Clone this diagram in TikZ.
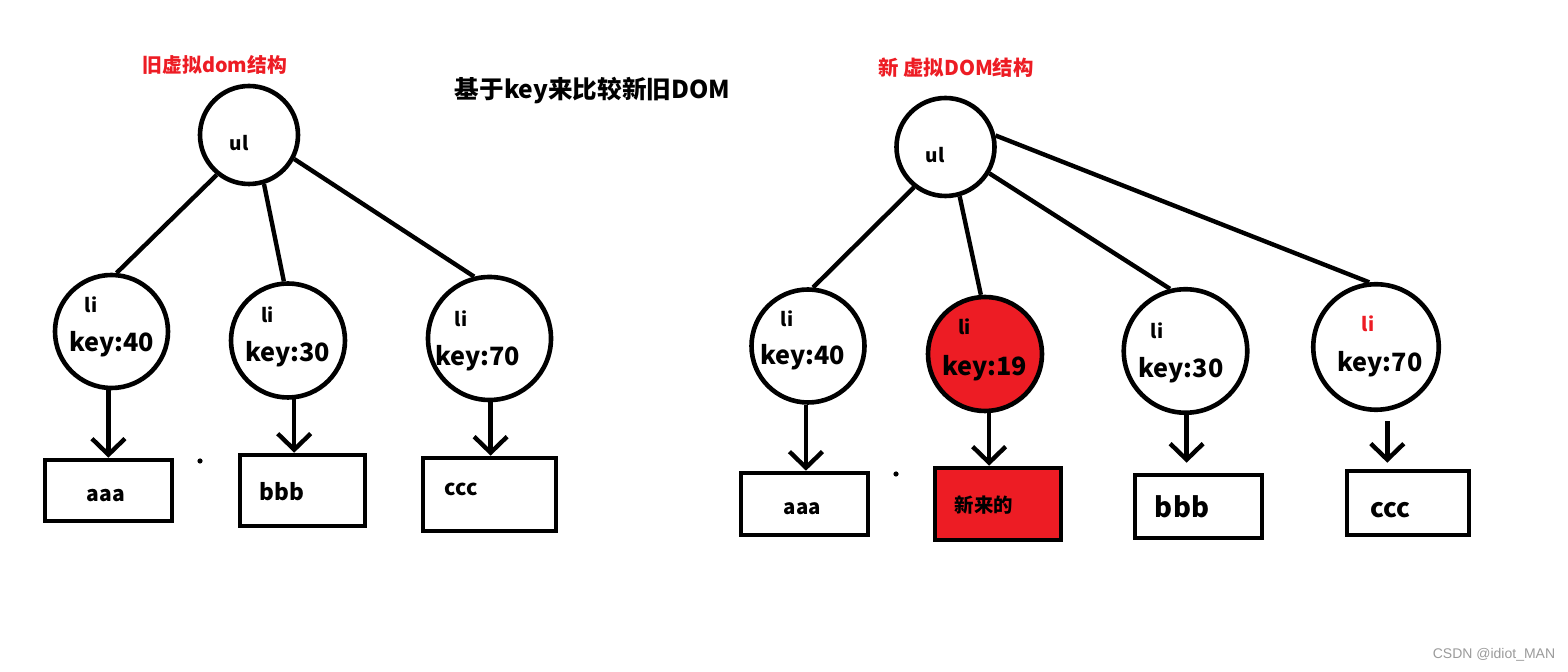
\documentclass[tikz,border=0pt]{standalone}
\usepackage{fontspec}
\setmainfont{Noto Sans CJK SC}
\newfontfamily\wmfont{Liberation Sans}
\usetikzlibrary{arrows.meta}
\definecolor{pred}{HTML}{ED1C24}
\definecolor{wmgray}{HTML}{9A9A9A}
\newcommand\fs[1]{\fontsize{#1pt}{#1pt}\selectfont\bfseries}
\tikzset{
  circ/.style={circle, draw, line width=2.3pt, inner sep=0pt},
  boxn/.style={rectangle, draw, line width=2.3pt, inner sep=0pt},
  edge/.style={line width=2.2pt},
  arr/.style={line width=2.2pt, -{Straight Barb[length=8pt,width=16.5pt]}},
  txt/.style={inner sep=0pt, anchor=base},
  ctxt/.style={inner sep=0pt, anchor=center},
}
\begin{document}
\begin{tikzpicture}[x=0.5pt,y=-0.5pt]
\useasboundingbox (0,0) rectangle (1568,672);
% ---------- titles ----------
\node[ctxt, text=pred, font=\fs{9.9}] (t1) at (215,65) {旧虚拟dom结构};
\node[ctxt, text=pred, font=\fs{10.2}] (t2) at (956,67.5) {新 虚拟DOM结构};
\node[ctxt, font=\fs{12.3}] (t0) at (592.5,91) {基于key来比较新旧DOM};
% ---------- old tree ----------
\node[circ, minimum size=49pt] (oul) at (249,135) {};
\node[circ, minimum size=56.5pt] (o1) at (111.5,331.5) {};
\node[circ, minimum size=57pt] (o2) at (288,340.5) {};
\node[circ, minimum size=61.5pt] (o3) at (489.5,338.5) {};
\node[boxn, minimum width=63.5pt, minimum height=30.5pt] (oa) at (108.5,490.5) {};
\node[boxn, minimum width=62.5pt, minimum height=35.5pt] (ob) at (302.5,490.5) {};
\node[boxn, minimum width=66.5pt, minimum height=36.5pt] (oc) at (489.5,494.5) {};
\draw[edge] (oul.231.8) -- (o1.85.4);
\draw[edge] (oul.287.7) -- (o2.94);
\draw[edge] (oul.332.4) -- (o3.104.3);
\draw[arr] (o1.267.5) -- (o1.267.5 |- oa.north);
\draw[arr] (o2.276) -- (o2.276 |- ob.north);
\draw[arr] (o3.271) -- (o3.271 |- oc.north);
\node[txt, font=\fs{9.5}] (oult) at (239,151) {ul};
\node[txt, font=\fs{9.5}] (o1l) at (91,313) {li};
\node[txt, font=\fs{12.6}] (o1k) at (111.5,352) {key:40};
\node[txt, font=\fs{9.5}] (o2l) at (267.5,323) {li};
\node[txt, font=\fs{12.6}] (o2k) at (287.5,362) {key:30};
\node[txt, font=\fs{9.5}] (o3l) at (461,327) {li};
\node[txt, font=\fs{12.6}] (o3k) at (477.5,366) {key:70};
\node[txt, font=\fs{10.5}] (oat) at (106,502) {aaa};
\node[txt, font=\fs{11.3}] (obt) at (282,501) {bbb};
\node[txt, font=\fs{10.7}] (oct) at (461.5,496) {ccc};
\fill (200,461) circle[radius=1.3pt];
% ---------- new tree ----------
\node[circ, minimum size=49pt] (nul) at (945.5,147) {};
\node[circ, minimum size=56.5pt] (n1) at (808,346) {};
\node[circ, minimum size=57pt, fill=pred] (n2) at (985,354) {};
\node[circ, minimum size=61.75pt] (n3) at (1185.5,351) {};
\node[circ, minimum size=62.75pt] (n4) at (1376,347) {};
\node[boxn, minimum width=63.5pt, minimum height=31pt] (na) at (804.5,504) {};
\node[boxn, minimum width=63pt, minimum height=36pt, fill=pred] (nn) at (998,504) {};
\node[boxn, minimum width=63.5pt, minimum height=31.5pt] (nb) at (1198.5,506.5) {};
\node[boxn, minimum width=61pt, minimum height=32pt] (nc) at (1408,503) {};
\draw[edge] (nul.232.9) -- (n1.85);
\draw[edge] (nul.286.8) -- (n2.94.8);
\draw[edge] (nul.329.7) -- (n3.104);
\draw[edge] (nul.13.7) -- (n4.96.8);
\draw[arr] (n1.268) -- (n1.268 |- na.north);
\draw[arr] (n2.274) -- (n2.274 |- nn.north);
\draw[arr, shorten >=5pt] (n3.271) -- (n3.271 |- nb.north);
\draw[arr, shorten <=5pt, shorten >=3pt] (n4.280) -- (n4.280 |- nc.north);
\node[txt, font=\fs{9.5}] (nult) at (935,163) {ul};
\node[txt, font=\fs{9.5}] (n1l) at (787,327) {li};
\node[txt, font=\fs{12.6}] (n1k) at (803,365) {key:40};
\node[txt, font=\fs{9.5}] (n2l) at (964.5,335) {li};
\node[txt, font=\fs{12.6}] (n2k) at (984.5,376) {key:19};
\node[txt, font=\fs{9.5}] (n3l) at (1157,339) {li};
\node[txt, font=\fs{12.6}] (n3k) at (1181,378) {key:30};
\node[txt, font=\fs{9.5}, text=pred] (n4l) at (1368,332) {li};
\node[txt, font=\fs{12.6}] (n4k) at (1380,372) {key:70};
\node[txt, font=\fs{10.2}] (nat) at (802.5,515) {aaa};
\node[ctxt, font=\fs{9.7}] (nnt) at (984,505) {新来的};
\node[txt, font=\fs{13.7}] (nbt) at (1182,518) {bbb};
\node[txt, font=\fs{13}] (nct) at (1390.5,518) {ccc};
\fill (896,474) circle[radius=1.3pt];
% ---------- watermark ----------
\node[ctxt, font=\wmfont\fontsize{7pt}{7pt}\selectfont, text=wmgray] (wm) at (1494,655) {CSDN @idiot\_MAN};
\end{tikzpicture}
\end{document}
